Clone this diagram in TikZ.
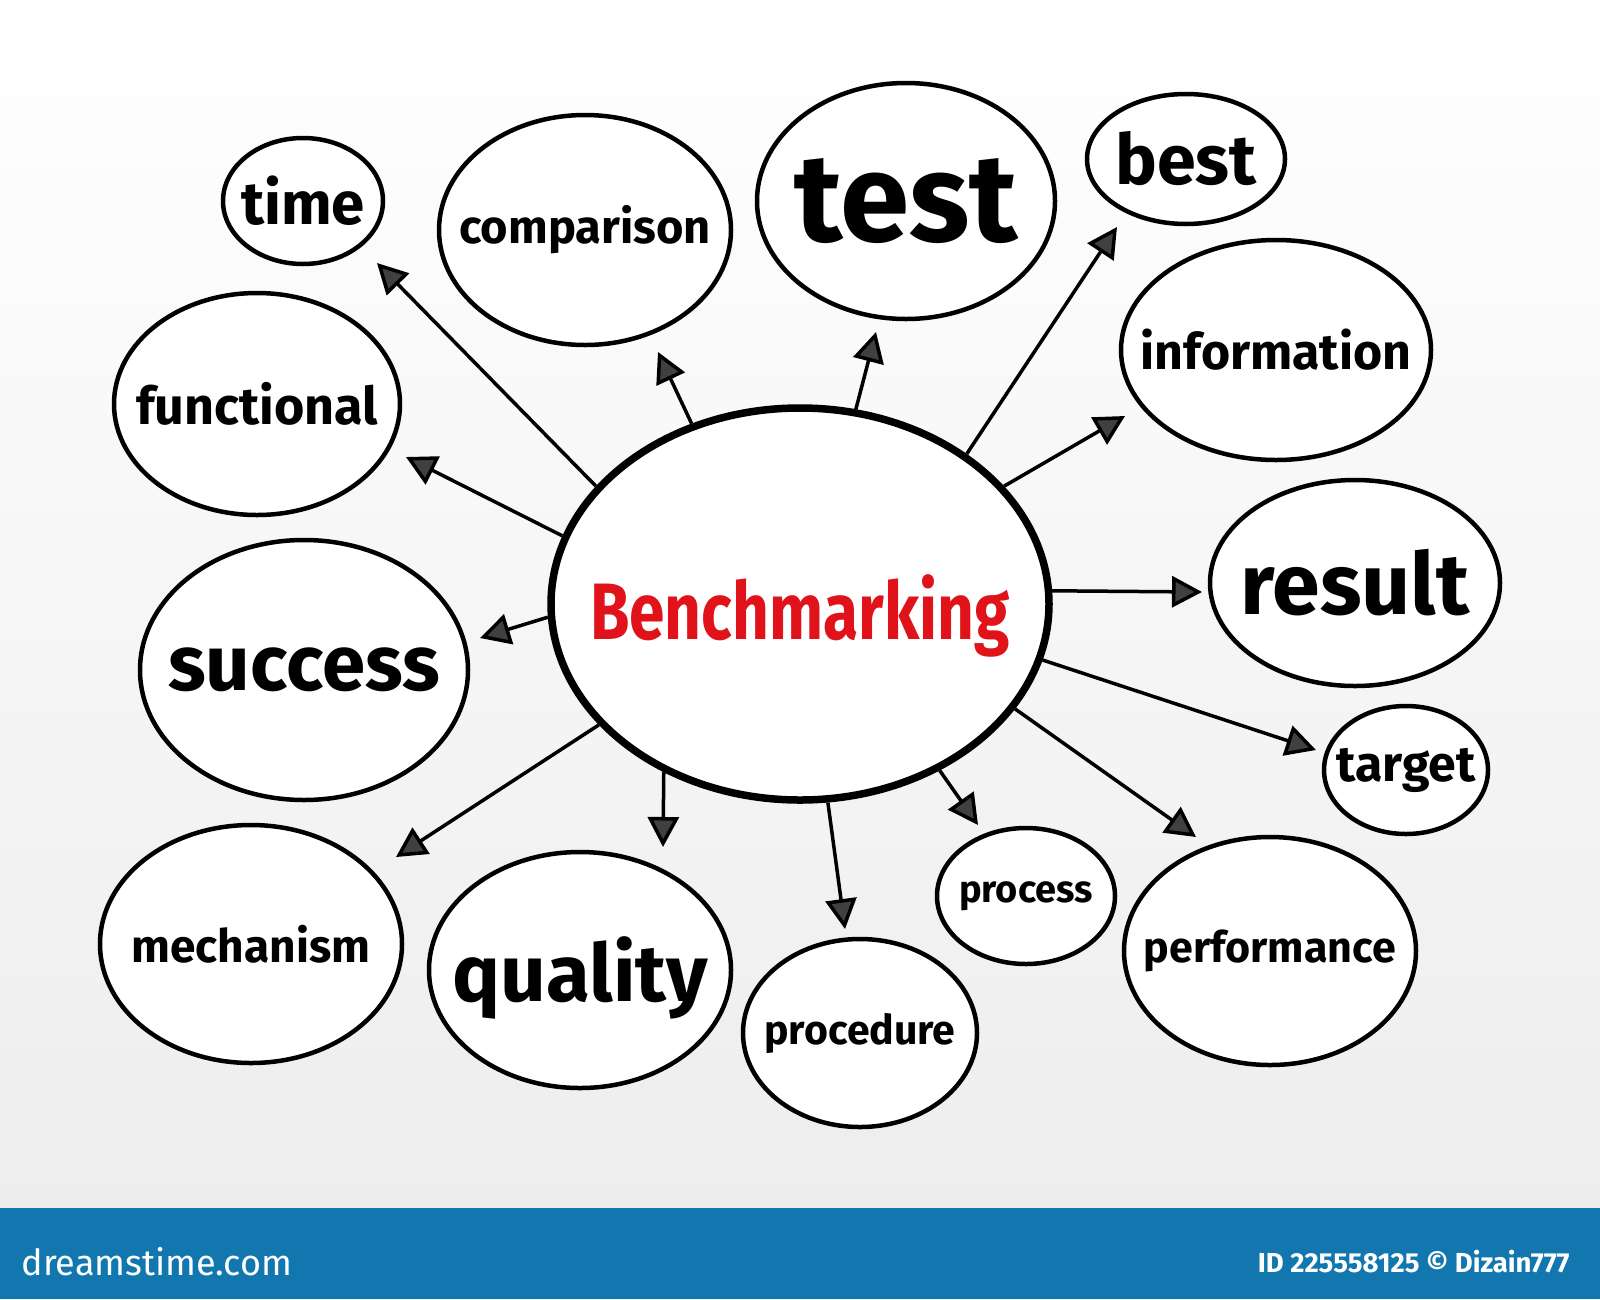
\documentclass[tikz,border=0pt]{standalone}
\usepackage{fontspec}
\setmainfont{Fira Sans}
\newfontfamily\tallfont{Fira Sans}[FakeStretch=0.8]
\usetikzlibrary{shapes.geometric,arrows.meta}

\definecolor{benchred}{RGB}{224,18,26}
\definecolor{barblue}{RGB}{17,119,174}

\tikzset{
  bubble/.style={draw, ellipse, fill=white, line width=4.5pt, inner sep=0pt},
  word/.style={font=\bfseries\fontsize{#1}{#1}\selectfont},
  arr/.style={line width=3.5pt, -{Triangle[length=30pt,width=31pt,fill=black!75]}},
}

\begin{document}
\begin{tikzpicture}[x=1pt,y=-1pt]
  \useasboundingbox (0,0) rectangle (1600,1299);
  \shade[top color=white, bottom color=black!7] (0,0) rectangle (1600,1208);
  \fill[barblue] (0,1208) rectangle (1600,1299);

  % centre
  \node[bubble, line width=7.5pt, minimum width=498pt, minimum height=392pt,
        label={[font=\tallfont\bfseries\fontsize{80pt}{80pt}\selectfont, text=benchred, yshift=-12pt]center:Benchmarking}] (bench) at (800,604) {};

  % bubbles round it
  \node[bubble, minimum width=160pt, minimum height=126pt, label={[word=60pt]center:time}] (time) at (303,201) {};
  \node[bubble, minimum width=292pt, minimum height=230pt, label={[word=47pt]center:comparison}] (comparison) at (585,230) {};
  \node[bubble, minimum width=298pt, minimum height=236pt, label={[word=125pt]center:test}] (test) at (906,201) {};
  \node[bubble, minimum width=198pt, minimum height=130pt, label={[word=70pt]center:best}] (best) at (1186,159) {};
  \node[bubble, minimum width=310pt, minimum height=220pt, label={[word=50pt]center:information}] (information) at (1276,350) {};
  \node[bubble, minimum width=286pt, minimum height=222pt, label={[word=52pt]center:functional}] (functional) at (257,404) {};
  \node[bubble, minimum width=290pt, minimum height=206pt, label={[word=86pt]center:result}] (result) at (1355,583) {};
  \node[bubble, minimum width=328pt, minimum height=260pt, label={[word=78pt]center:success}] (success) at (304,670) {};
  \node[bubble, minimum width=164pt, minimum height=128pt, label={[word=50pt]center:target}] (target) at (1406,770) {};
  \node[bubble, minimum width=302pt, minimum height=238pt, label={[word=46pt]center:mechanism}] (mechanism) at (251,944) {};
  \node[bubble, minimum width=302pt, minimum height=236pt, label={[word=80pt, yshift=-8pt]center:quality}] (quality) at (580,970) {};
  \node[bubble, minimum width=234pt, minimum height=188pt, label={[word=41pt]center:procedure}] (procedure) at (860,1033) {};
  \node[bubble, minimum width=178pt, minimum height=136pt, label={[word=38pt]center:process}] (process) at (1026,896) {};
  \node[bubble, minimum width=292pt, minimum height=228pt, label={[word=43pt]center:performance}] (performance) at (1270,951) {};

  % arrow tips
  \coordinate (tTime) at (377,263);
  \coordinate (tComparison) at (658,352);
  \coordinate (tTest) at (876,332);
  \coordinate (tBest) at (1117,227);
  \coordinate (tInformation) at (1125,416);
  \coordinate (tFunctional) at (406,457);
  \coordinate (tResult) at (1202,592);
  \coordinate (tSuccess) at (480,638);
  \coordinate (tTarget) at (1316,750);
  \coordinate (tMechanism) at (396,857);
  \coordinate (tQuality) at (663,847);
  \coordinate (tProcedure) at (845,929);
  \coordinate (tProcess) at (978,825);
  \coordinate (tPerformance) at (1196,837);

  \draw[arr] (bench.150) -- (tTime);
  \draw[arr] (bench.121) -- (tComparison);
  \draw[arr] (bench.74) -- (tTest);
  \draw[arr] (bench.42) -- (tBest);
  \draw[arr] (bench.30) -- (tInformation);
  \draw[arr] (bench.164) -- (tFunctional);
  \draw[arr] (bench.3) -- (tResult);
  \draw[arr] (bench.183) -- (tSuccess);
  \draw[arr] (bench.347) -- (tTarget);
  \draw[arr] (bench.211) -- (tMechanism);
  \draw[arr] (bench.231) -- (tQuality);
  \draw[arr] (bench.278) -- (tProcedure);
  \draw[arr] (bench.310) -- (tProcess);
  \draw[arr] (bench.334) -- (tPerformance);

  % footer
  \node[anchor=west, text=white, font=\fontsize{36pt}{36pt}\selectfont] (site) at (18,1262) {dreamstime.com};
  \node[anchor=east, text=white, font=\bfseries\fontsize{27.5pt}{27.5pt}\selectfont] (credit) at (1573,1262) {ID 225558125 © Dizain777};
\end{tikzpicture}
\end{document}
